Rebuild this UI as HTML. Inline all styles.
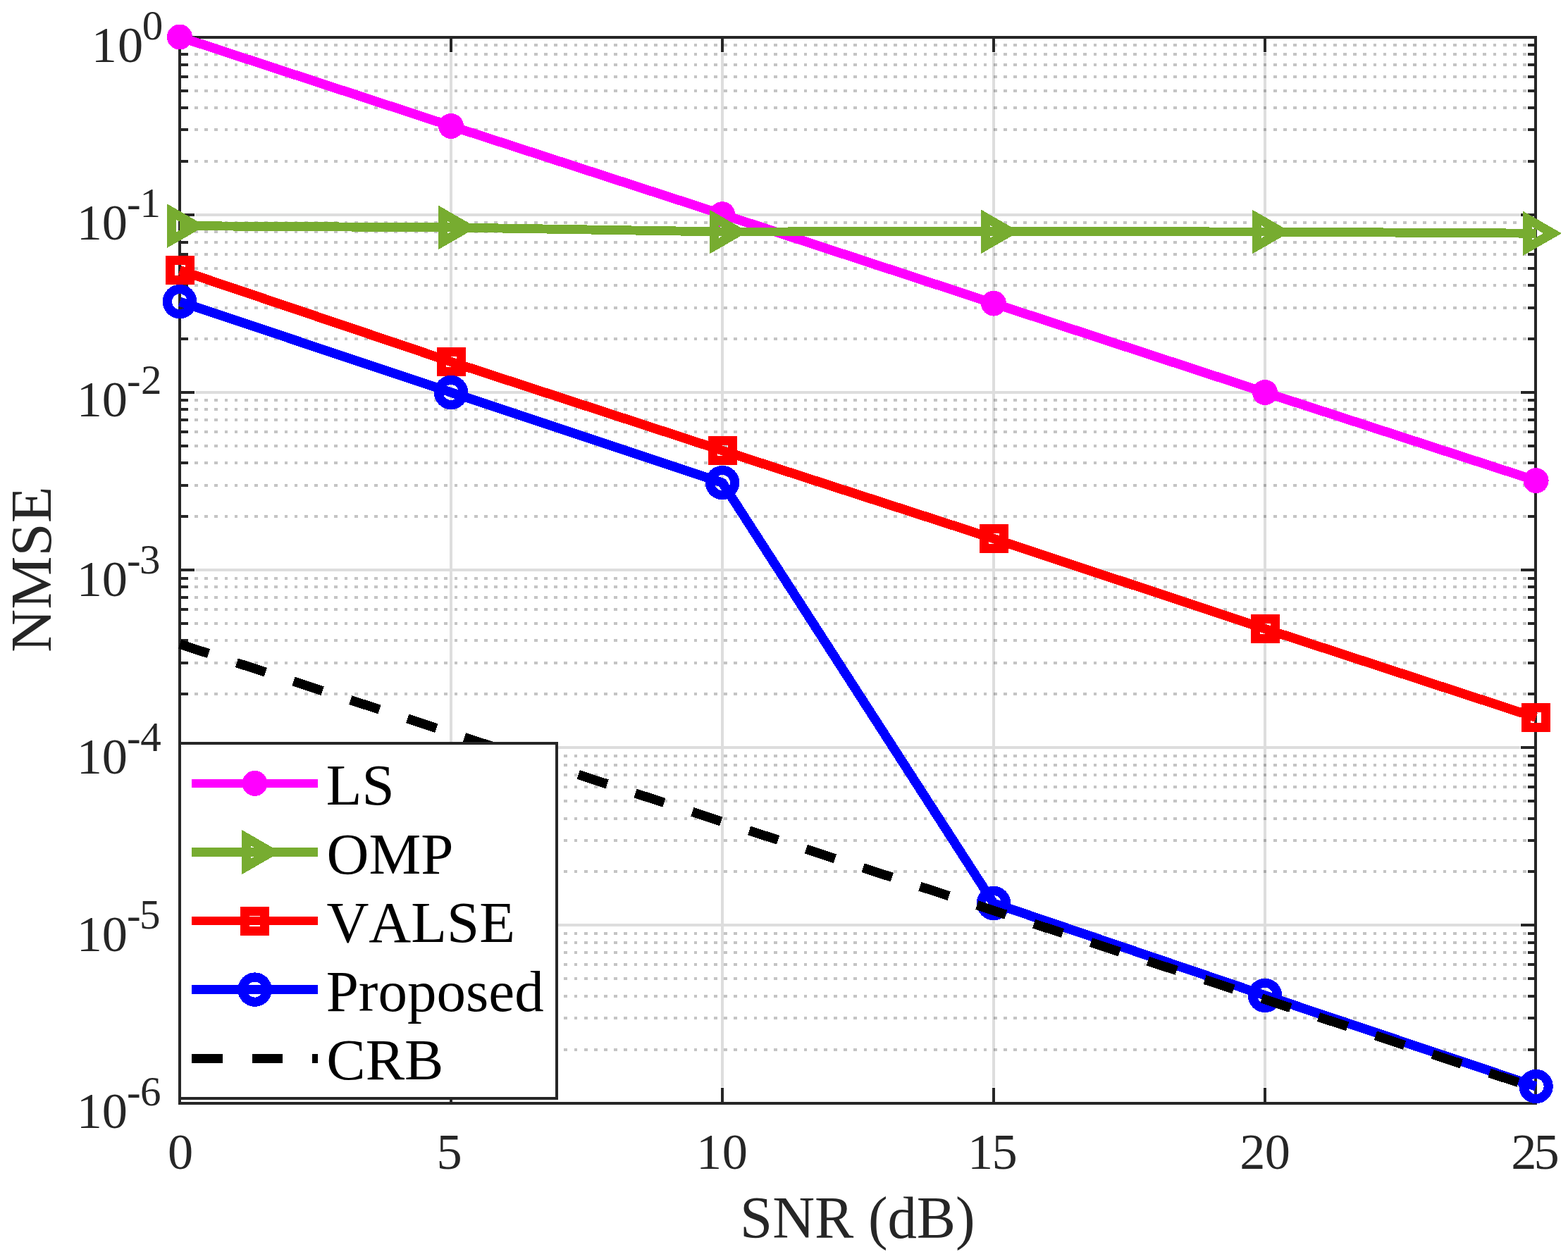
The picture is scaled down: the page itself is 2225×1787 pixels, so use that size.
<!DOCTYPE html>
<html lang="en"><head><meta charset="utf-8"><title>NMSE versus SNR</title>
<style>html,body{margin:0;padding:0;background:#fff}body{width:2225px;height:1787px;overflow:hidden}svg{display:block}text{font-family:"Liberation Serif","Times New Roman",serif;font-kerning:none;font-variant-ligatures:none}.t{font-size:72.4px;fill:#262626}.s{font-size:59px;fill:#262626}.l{font-size:84px;fill:#262626}.g{font-size:83px;fill:#000}</style></head><body>
<svg width="2225" height="1787" viewBox="0 0 2225 1787" shape-rendering="crispEdges">
<rect width="2225" height="1787" fill="#fff"/>
<g id="grid" fill="none" stroke="#262626" stroke-width="4">
<path d="M255 229H2179M255 184H2179M255 153H2179M255 129H2179M255 109H2179M255 92H2179M255 77H2179M255 64H2179M255 481H2179M255 437H2179M255 405H2179M255 381H2179M255 361H2179M255 344H2179M255 329H2179M255 316H2179M255 733H2179M255 689H2179M255 657H2179M255 633H2179M255 613H2179M255 596H2179M255 581H2179M255 568H2179M255 985H2179M255 941H2179M255 909H2179M255 885H2179M255 865H2179M255 848H2179M255 833H2179M255 821H2179M255 1237H2179M255 1193H2179M255 1162H2179M255 1137H2179M255 1117H2179M255 1100H2179M255 1086H2179M255 1073H2179M255 1490H2179M255 1445H2179M255 1414H2179M255 1389H2179M255 1369H2179M255 1352H2179M255 1338H2179M255 1325H2179" stroke-opacity="0.27" stroke-dasharray="4.72 9.454" stroke-dashoffset="7.35"/>
<path d="M277 305H2157M277 557H2157M277 809H2157M277 1061H2157M277 1313H2157M640 75V1543M1025 75V1543M1410 75V1543M1795 75V1543" stroke-opacity="0.155"/>
</g>
<g id="axes" fill="none" stroke="#262626" stroke-width="4">
<rect x="255" y="53" width="1924" height="1513"/>
<path d="M640 1566V1544M640 53V74M1025 1566V1544M1025 53V74M1410 1566V1544M1410 53V74M1795 1566V1544M1795 53V74M255 229H267M2179 229H2168M255 184H267M2179 184H2168M255 153H267M2179 153H2168M255 129H267M2179 129H2168M255 109H267M2179 109H2168M255 92H267M2179 92H2168M255 77H267M2179 77H2168M255 64H267M2179 64H2168M255 305H276M2179 305H2158M255 481H267M2179 481H2168M255 437H267M2179 437H2168M255 405H267M2179 405H2168M255 381H267M2179 381H2168M255 361H267M2179 361H2168M255 344H267M2179 344H2168M255 329H267M2179 329H2168M255 316H267M2179 316H2168M255 557H276M2179 557H2158M255 733H267M2179 733H2168M255 689H267M2179 689H2168M255 657H267M2179 657H2168M255 633H267M2179 633H2168M255 613H267M2179 613H2168M255 596H267M2179 596H2168M255 581H267M2179 581H2168M255 568H267M2179 568H2168M255 809H276M2179 809H2158M255 985H267M2179 985H2168M255 941H267M2179 941H2168M255 909H267M2179 909H2168M255 885H267M2179 885H2168M255 865H267M2179 865H2168M255 848H267M2179 848H2168M255 833H267M2179 833H2168M255 821H267M2179 821H2168M255 1061H276M2179 1061H2158M255 1237H267M2179 1237H2168M255 1193H267M2179 1193H2168M255 1162H267M2179 1162H2168M255 1137H267M2179 1137H2168M255 1117H267M2179 1117H2168M255 1100H267M2179 1100H2168M255 1086H267M2179 1086H2168M255 1073H267M2179 1073H2168M255 1313H276M2179 1313H2158M255 1490H267M2179 1490H2168M255 1445H267M2179 1445H2168M255 1414H267M2179 1414H2168M255 1389H267M2179 1389H2168M255 1369H267M2179 1369H2168M255 1352H267M2179 1352H2168M255 1338H267M2179 1338H2168M255 1325H267M2179 1325H2168"/>
</g>
<g id="series" fill="none" stroke-width="13.3">
<g stroke="#f0f"><polyline points="255,52.5 640,178.9 1025,304.2 1410,430.6 1795,557 2179.6,682.2" stroke-linejoin="round"/>
<path d="M237 52.5a18 18 0 1 0 36 0a18 18 0 1 0 -36 0ZM622 178.9a18 18 0 1 0 36 0a18 18 0 1 0 -36 0ZM1007 304.2a18 18 0 1 0 36 0a18 18 0 1 0 -36 0ZM1392 430.6a18 18 0 1 0 36 0a18 18 0 1 0 -36 0ZM1777 557a18 18 0 1 0 36 0a18 18 0 1 0 -36 0ZM2161.6 682.2a18 18 0 1 0 36 0a18 18 0 1 0 -36 0Z" fill="#f0f" stroke="none"/></g>
<g stroke="#77ac30"><polyline points="255,320.6 640,322.9 1025,329 1410,328.8 1795,329 2179.6,331.2" stroke-linejoin="round" stroke-width="12.9"/>
<path d="M243.3 300.4L278.4 320.6L243.3 340.8ZM628.3 302.7L663.4 322.9L628.3 343.1ZM1013.3 308.8L1048.4 329L1013.3 349.2ZM1398.3 308.6L1433.4 328.8L1398.3 349ZM1783.3 308.8L1818.4 329L1783.3 349.2ZM2167.9 311L2203 331.2L2167.9 351.4Z" stroke-width="13"/></g>
<g stroke="#f00"><polyline points="255,383.5 640,513.5 1025,639.5 1410,764.5 1795,892.5 2179.6,1018.4" stroke-linejoin="round"/>
<path d="M241 369.5h28v28h-28ZM626 499.5h28v28h-28ZM1011 625.5h28v28h-28ZM1396 750.5h28v28h-28ZM1781 878.5h28v28h-28ZM2165.6 1004.4h28v28h-28Z" stroke-width="13"/></g>
<g stroke="#00f"><polyline points="255,428.1 640,557 1025,685.1 1410,1282 1795,1412.9 2179.6,1542" stroke-linejoin="round"/>
<path d="M237.4 428.1a17.6 17.6 0 1 0 35.2 0a17.6 17.6 0 1 0 -35.2 0ZM622.4 557a17.6 17.6 0 1 0 35.2 0a17.6 17.6 0 1 0 -35.2 0ZM1007.4 685.1a17.6 17.6 0 1 0 35.2 0a17.6 17.6 0 1 0 -35.2 0ZM1392.4 1282a17.6 17.6 0 1 0 35.2 0a17.6 17.6 0 1 0 -35.2 0ZM1777.4 1412.9a17.6 17.6 0 1 0 35.2 0a17.6 17.6 0 1 0 -35.2 0ZM2162 1542a17.6 17.6 0 1 0 35.2 0a17.6 17.6 0 1 0 -35.2 0Z" stroke-width="13.2"/></g>
<polyline points="255,914.2 640,1040.28 1025,1166.36 1410,1292.44 1795,1418.52 2179.6,1544.6" stroke="#000" stroke-dasharray="43.15 41.88"/>
</g>
<g id="legend">
<rect x="255" y="1055" width="535" height="504" fill="#fff" stroke="#262626" stroke-width="4"/>
<g fill="none" stroke-width="12.5">
<path d="M272 1111.9H451" stroke="#f0f"/>
<path d="M343.6 1111.9a18 18 0 1 0 36 0a18 18 0 1 0 -36 0Z" fill="#f0f"/>
<path d="M272 1209.5H451" stroke="#77ac30"/>
<path d="M349.9 1189.3L385 1209.5L349.9 1229.7Z" stroke="#77ac30" stroke-width="13"/>
<path d="M272 1307H451" stroke="#f00"/>
<path d="M347.6 1293h28v28h-28Z" stroke="#f00" stroke-width="13"/>
<path d="M272 1404.6H451" stroke="#00f"/>
<path d="M344 1404.6a17.6 17.6 0 1 0 35.2 0a17.6 17.6 0 1 0 -35.2 0Z" stroke="#00f" stroke-width="13.2"/>
<path d="M272 1502.4H451" stroke="#000" stroke-dasharray="43.5 42.2"/>
</g>
<text class="g" x="462.7" y="1141.6">LS</text>
<text class="g" x="463.6" y="1240">OMP</text>
<text class="g" x="463.4" y="1337.2">VALSE</text>
<text class="g" x="462.7" y="1435">Proposed</text>
<text class="g" x="463.3" y="1531.6">CRB</text>
</g>
<g id="ylabels">
<text class="t" x="129.8 167" y="87.65">10</text><text class="s" x="201.7" y="55.95">0</text>
<text class="t" x="108.8 144.8" y="339.8">10</text><text class="s" x="180.1 198.5" y="308.8 308.1">-1</text>
<text class="t" x="108.8 144.8" y="590.7">10</text><text class="s" x="180.1 200.1" y="559.7 559">-2</text>
<text class="t" x="108.8 144.8" y="845.6">10</text><text class="s" x="180.1 197.9" y="814.6 813.9">-3</text>
<text class="t" x="108.8 144.8" y="1097.5">10</text><text class="s" x="180.1 199.2" y="1066.5 1065.8">-4</text>
<text class="t" x="108.8 144.8" y="1349.8">10</text><text class="s" x="180.1 198.1" y="1318.8 1318.1">-5</text>
<text class="t" x="108.8 144.8" y="1600.6">10</text><text class="s" x="180.1 199" y="1569.6 1568.9">-6</text>
</g>
<g id="xlabels">
<text class="t" x="237.9" y="1659.2">0</text>
<text class="t" x="619.5" y="1659.2">5</text>
<text class="t" x="987.9 1024.8" y="1659.2">10</text>
<text class="t" x="1372.9 1407.4" y="1659.2">15</text>
<text class="t" x="1759.2 1794.8" y="1659.2">20</text>
<text class="t" x="2144.2 2176.4" y="1659.2">25</text>
</g>
<text class="l" text-anchor="middle" x="1216.9" y="1757.2" textLength="333.6" lengthAdjust="spacingAndGlyphs">SNR (dB)</text>
<text class="l" text-anchor="middle" transform="translate(72.2 808.3) rotate(-90)" style="font-size:83.5px" textLength="235.5" lengthAdjust="spacingAndGlyphs">NMSE</text>
</svg></body></html>
